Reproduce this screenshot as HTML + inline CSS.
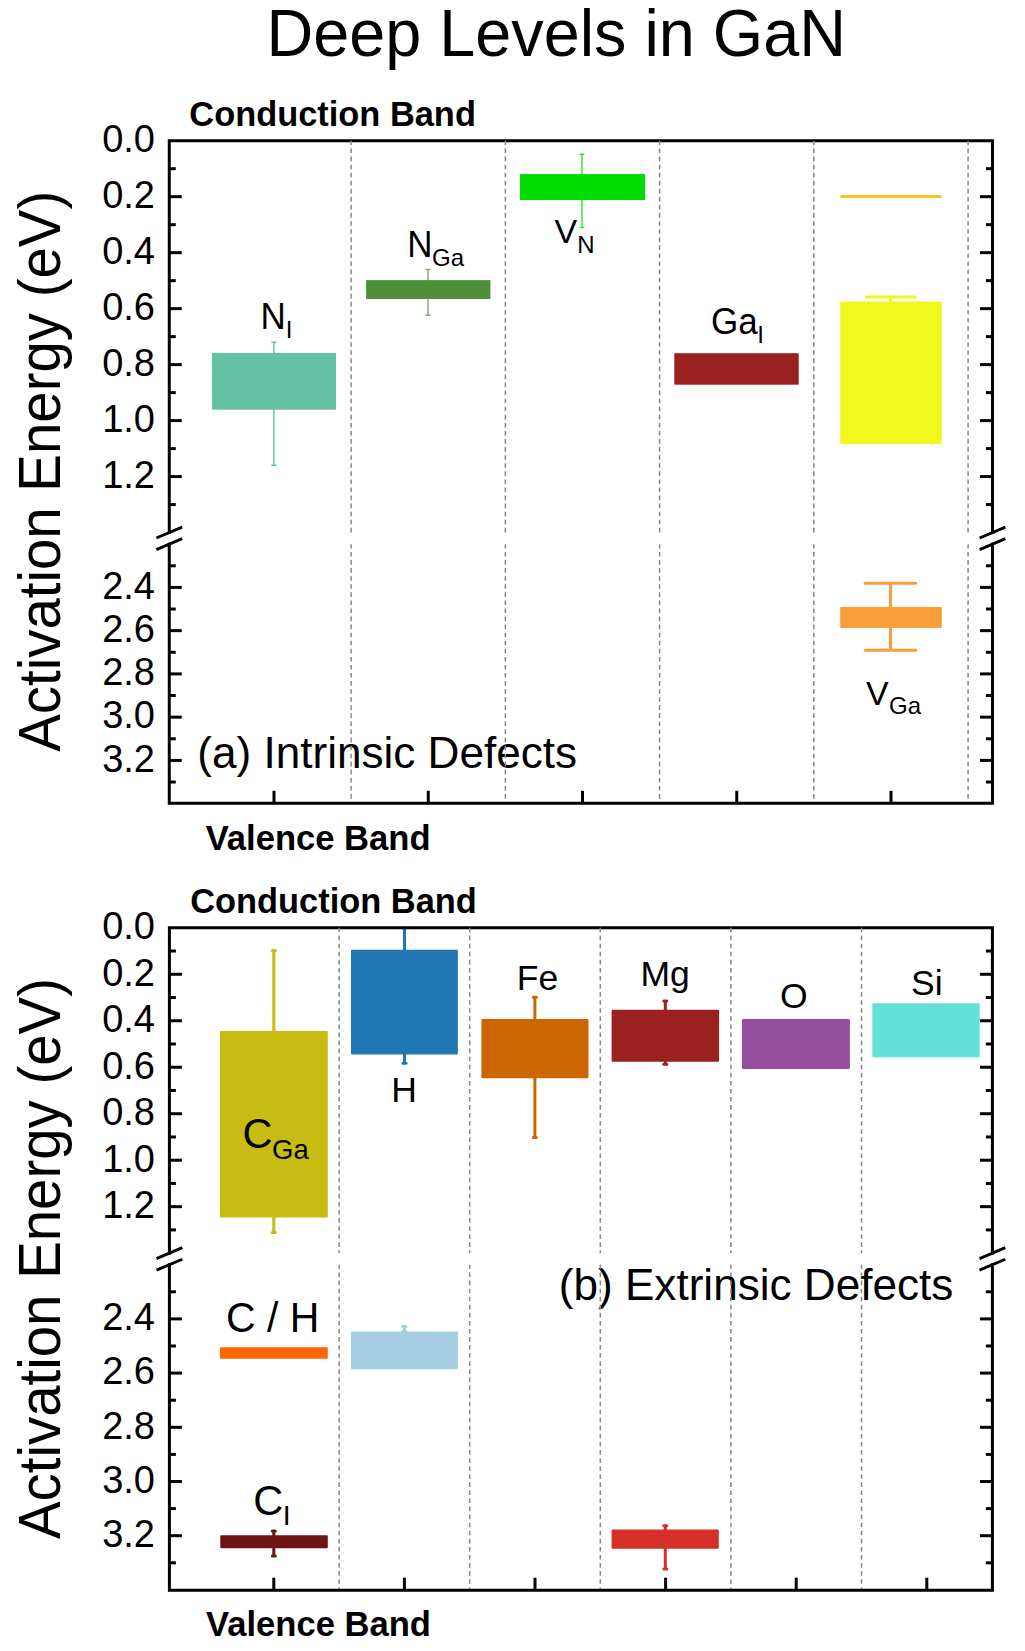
<!DOCTYPE html><html><head><meta charset="utf-8"><style>html,body{margin:0;padding:0;background:#fff;overflow:hidden}svg{display:block}</style></head><body><svg width="1025" height="1651" viewBox="0 0 1025 1651" font-family='"Liberation Sans", sans-serif'>
<rect width="1025" height="1651" fill="#fff"/>
<text transform="translate(266.55,55.60) scale(1,1.028)" font-size="64.75" fill="#000">Deep Levels in GaN</text>
<line x1="273.9" y1="342.2" x2="273.9" y2="465.3" stroke="#66c2a5" stroke-width="1.4"/>
<line x1="271.9" y1="342.2" x2="275.9" y2="342.2" stroke="#66c2a5" stroke-width="1.4" stroke-linecap="round"/>
<line x1="271.9" y1="465.3" x2="275.9" y2="465.3" stroke="#66c2a5" stroke-width="1.4" stroke-linecap="round"/>
<rect x="212" y="352.9" width="124.00" height="56.80" fill="#66c2a5" rx="0"/>
<line x1="428" y1="269.4" x2="428" y2="315.3" stroke="#7aad6a" stroke-width="1.4"/>
<line x1="426.0" y1="269.4" x2="430.0" y2="269.4" stroke="#7aad6a" stroke-width="1.4" stroke-linecap="round"/>
<line x1="426.0" y1="315.3" x2="430.0" y2="315.3" stroke="#7aad6a" stroke-width="1.4" stroke-linecap="round"/>
<rect x="366.1" y="280.1" width="124.30" height="18.90" fill="#4f8f3a" rx="0"/>
<line x1="582" y1="154.3" x2="582" y2="227.5" stroke="#33e033" stroke-width="1.4"/>
<line x1="580.0" y1="154.3" x2="584.0" y2="154.3" stroke="#33e033" stroke-width="1.4" stroke-linecap="round"/>
<line x1="580.0" y1="227.5" x2="584.0" y2="227.5" stroke="#33e033" stroke-width="1.4" stroke-linecap="round"/>
<rect x="520" y="174.1" width="125.00" height="25.90" fill="#00dd00" rx="0"/>
<rect x="674.3" y="353.2" width="124.40" height="31.50" fill="#9b2020" rx="0"/>
<line x1="841.7" y1="196.6" x2="940.2" y2="196.6" stroke="#fbc521" stroke-width="3" stroke-linecap="round"/>
<rect x="840.2" y="301.4" width="101.50" height="142.60" fill="#f0f71f" rx="1"/>
<line x1="866.3" y1="297.1" x2="915.1" y2="297.1" stroke="#f0f71f" stroke-width="3" stroke-linecap="round"/>
<line x1="890.6" y1="297.1" x2="890.6" y2="302" stroke="#f0f71f" stroke-width="3"/>
<line x1="890.5" y1="583.2" x2="890.5" y2="650.2" stroke="#fb9d3b" stroke-width="3"/>
<line x1="865.2" y1="583.2" x2="915.8" y2="583.2" stroke="#fb9d3b" stroke-width="3" stroke-linecap="round"/>
<line x1="865.2" y1="650.2" x2="915.8" y2="650.2" stroke="#fb9d3b" stroke-width="3" stroke-linecap="round"/>
<rect x="840.2" y="607.1" width="101.60" height="20.90" fill="#fb9d3b" rx="1"/>
<path d="M169.25,532.56 L169.25,140.7 L992.5,140.7 L992.5,532.56" fill="none" stroke="#000" stroke-width="3.0" stroke-linecap="square"/>
<path d="M169.25,544.1500000000001 L169.25,803.3 L992.5,803.3 L992.5,544.1500000000001" fill="none" stroke="#000" stroke-width="3.0" stroke-linecap="square"/>
<line x1="156.35" y1="538.01" x2="182.15" y2="527.1099999999999" stroke="#000" stroke-width="2.9"/>
<line x1="156.35" y1="549.6000000000001" x2="182.15" y2="538.7" stroke="#000" stroke-width="2.9"/>
<line x1="979.6" y1="538.01" x2="1005.4" y2="527.1099999999999" stroke="#000" stroke-width="2.9"/>
<line x1="979.6" y1="549.6000000000001" x2="1005.4" y2="538.7" stroke="#000" stroke-width="2.9"/>
<line x1="169.25" y1="196.68" x2="181.75" y2="196.68" stroke="#000" stroke-width="3.0"/>
<line x1="992.5" y1="196.68" x2="980.0" y2="196.68" stroke="#000" stroke-width="3.0"/>
<line x1="169.25" y1="252.66" x2="181.75" y2="252.66" stroke="#000" stroke-width="3.0"/>
<line x1="992.5" y1="252.66" x2="980.0" y2="252.66" stroke="#000" stroke-width="3.0"/>
<line x1="169.25" y1="308.64" x2="181.75" y2="308.64" stroke="#000" stroke-width="3.0"/>
<line x1="992.5" y1="308.64" x2="980.0" y2="308.64" stroke="#000" stroke-width="3.0"/>
<line x1="169.25" y1="364.62" x2="181.75" y2="364.62" stroke="#000" stroke-width="3.0"/>
<line x1="992.5" y1="364.62" x2="980.0" y2="364.62" stroke="#000" stroke-width="3.0"/>
<line x1="169.25" y1="420.60" x2="181.75" y2="420.60" stroke="#000" stroke-width="3.0"/>
<line x1="992.5" y1="420.60" x2="980.0" y2="420.60" stroke="#000" stroke-width="3.0"/>
<line x1="169.25" y1="476.58" x2="181.75" y2="476.58" stroke="#000" stroke-width="3.0"/>
<line x1="992.5" y1="476.58" x2="980.0" y2="476.58" stroke="#000" stroke-width="3.0"/>
<line x1="169.25" y1="168.69" x2="175.75" y2="168.69" stroke="#000" stroke-width="3.0"/>
<line x1="992.5" y1="168.69" x2="986.0" y2="168.69" stroke="#000" stroke-width="3.0"/>
<line x1="169.25" y1="224.67" x2="175.75" y2="224.67" stroke="#000" stroke-width="3.0"/>
<line x1="992.5" y1="224.67" x2="986.0" y2="224.67" stroke="#000" stroke-width="3.0"/>
<line x1="169.25" y1="280.65" x2="175.75" y2="280.65" stroke="#000" stroke-width="3.0"/>
<line x1="992.5" y1="280.65" x2="986.0" y2="280.65" stroke="#000" stroke-width="3.0"/>
<line x1="169.25" y1="336.63" x2="175.75" y2="336.63" stroke="#000" stroke-width="3.0"/>
<line x1="992.5" y1="336.63" x2="986.0" y2="336.63" stroke="#000" stroke-width="3.0"/>
<line x1="169.25" y1="392.61" x2="175.75" y2="392.61" stroke="#000" stroke-width="3.0"/>
<line x1="992.5" y1="392.61" x2="986.0" y2="392.61" stroke="#000" stroke-width="3.0"/>
<line x1="169.25" y1="448.59" x2="175.75" y2="448.59" stroke="#000" stroke-width="3.0"/>
<line x1="992.5" y1="448.59" x2="986.0" y2="448.59" stroke="#000" stroke-width="3.0"/>
<line x1="169.25" y1="504.57" x2="175.75" y2="504.57" stroke="#000" stroke-width="3.0"/>
<line x1="992.5" y1="504.57" x2="986.0" y2="504.57" stroke="#000" stroke-width="3.0"/>
<line x1="169.25" y1="587.40" x2="181.75" y2="587.40" stroke="#000" stroke-width="3.0"/>
<line x1="992.5" y1="587.40" x2="980.0" y2="587.40" stroke="#000" stroke-width="3.0"/>
<line x1="169.25" y1="630.65" x2="181.75" y2="630.65" stroke="#000" stroke-width="3.0"/>
<line x1="992.5" y1="630.65" x2="980.0" y2="630.65" stroke="#000" stroke-width="3.0"/>
<line x1="169.25" y1="673.90" x2="181.75" y2="673.90" stroke="#000" stroke-width="3.0"/>
<line x1="992.5" y1="673.90" x2="980.0" y2="673.90" stroke="#000" stroke-width="3.0"/>
<line x1="169.25" y1="717.15" x2="181.75" y2="717.15" stroke="#000" stroke-width="3.0"/>
<line x1="992.5" y1="717.15" x2="980.0" y2="717.15" stroke="#000" stroke-width="3.0"/>
<line x1="169.25" y1="760.40" x2="181.75" y2="760.40" stroke="#000" stroke-width="3.0"/>
<line x1="992.5" y1="760.40" x2="980.0" y2="760.40" stroke="#000" stroke-width="3.0"/>
<line x1="169.25" y1="565.77" x2="175.75" y2="565.77" stroke="#000" stroke-width="3.0"/>
<line x1="992.5" y1="565.77" x2="986.0" y2="565.77" stroke="#000" stroke-width="3.0"/>
<line x1="169.25" y1="609.02" x2="175.75" y2="609.02" stroke="#000" stroke-width="3.0"/>
<line x1="992.5" y1="609.02" x2="986.0" y2="609.02" stroke="#000" stroke-width="3.0"/>
<line x1="169.25" y1="652.28" x2="175.75" y2="652.28" stroke="#000" stroke-width="3.0"/>
<line x1="992.5" y1="652.28" x2="986.0" y2="652.28" stroke="#000" stroke-width="3.0"/>
<line x1="169.25" y1="695.52" x2="175.75" y2="695.52" stroke="#000" stroke-width="3.0"/>
<line x1="992.5" y1="695.52" x2="986.0" y2="695.52" stroke="#000" stroke-width="3.0"/>
<line x1="169.25" y1="738.77" x2="175.75" y2="738.77" stroke="#000" stroke-width="3.0"/>
<line x1="992.5" y1="738.77" x2="986.0" y2="738.77" stroke="#000" stroke-width="3.0"/>
<line x1="169.25" y1="782.02" x2="175.75" y2="782.02" stroke="#000" stroke-width="3.0"/>
<line x1="992.5" y1="782.02" x2="986.0" y2="782.02" stroke="#000" stroke-width="3.0"/>
<line x1="274.0" y1="803.3" x2="274.0" y2="790.8" stroke="#000" stroke-width="3.0"/>
<line x1="428.25" y1="803.3" x2="428.25" y2="790.8" stroke="#000" stroke-width="3.0"/>
<line x1="582.5" y1="803.3" x2="582.5" y2="790.8" stroke="#000" stroke-width="3.0"/>
<line x1="736.75" y1="803.3" x2="736.75" y2="790.8" stroke="#000" stroke-width="3.0"/>
<line x1="891.0" y1="803.3" x2="891.0" y2="790.8" stroke="#000" stroke-width="3.0"/>
<text transform="translate(155,152.00) scale(1,1.03)" font-size="38" text-anchor="end">0.0</text>
<text transform="translate(155,207.98) scale(1,1.03)" font-size="38" text-anchor="end">0.2</text>
<text transform="translate(155,263.96) scale(1,1.03)" font-size="38" text-anchor="end">0.4</text>
<text transform="translate(155,319.94) scale(1,1.03)" font-size="38" text-anchor="end">0.6</text>
<text transform="translate(155,375.92) scale(1,1.03)" font-size="38" text-anchor="end">0.8</text>
<text transform="translate(155,431.90) scale(1,1.03)" font-size="38" text-anchor="end">1.0</text>
<text transform="translate(155,487.88) scale(1,1.03)" font-size="38" text-anchor="end">1.2</text>
<text transform="translate(155,598.70) scale(1,1.03)" font-size="38" text-anchor="end">2.4</text>
<text transform="translate(155,641.95) scale(1,1.03)" font-size="38" text-anchor="end">2.6</text>
<text transform="translate(155,685.20) scale(1,1.03)" font-size="38" text-anchor="end">2.8</text>
<text transform="translate(155,728.45) scale(1,1.03)" font-size="38" text-anchor="end">3.0</text>
<text transform="translate(155,771.70) scale(1,1.03)" font-size="38" text-anchor="end">3.2</text>
<text transform="translate(260.55,328.80) scale(1,1.03)" font-size="35" fill="#000">N</text>
<text x="285.80" y="338.00" font-size="24" fill="#000">I</text>
<text transform="translate(407.15,256.80) scale(1,1.03)" font-size="35" fill="#000">N</text>
<text x="432.10" y="266.00" font-size="24" fill="#000">Ga</text>
<text x="554.40" y="243.10" font-size="34" fill="#000">V</text>
<text x="577.25" y="252.70" font-size="24" fill="#000">N</text>
<text transform="translate(710.95,333.90) scale(1,1.03)" font-size="35" fill="#000">Ga</text>
<text x="757.20" y="343.00" font-size="24" fill="#000">I</text>
<text x="866.10" y="704.90" font-size="34" fill="#000">V</text>
<text x="889.00" y="714.00" font-size="24" fill="#000">Ga</text>
<text x="197.30" y="767.60" font-size="44.1" fill="#000">(a) Intrinsic Defects</text>
<text x="189.35" y="125.70" font-size="34.4" font-weight="bold" fill="#000">Conduction Band</text>
<text x="205.70" y="849.80" font-size="34.6" font-weight="bold" fill="#000">Valence Band</text>
<text transform="translate(60,751.8) rotate(-90) scale(1,1.065)" font-size="56.4">Activation Energy (eV)</text>
<line x1="273.8" y1="950.5" x2="273.8" y2="1232.4" stroke="#c8bb12" stroke-width="3"/>
<line x1="272.3" y1="950.5" x2="275.3" y2="950.5" stroke="#c8bb12" stroke-width="3" stroke-linecap="round"/>
<line x1="272.3" y1="1232.4" x2="275.3" y2="1232.4" stroke="#c8bb12" stroke-width="3" stroke-linecap="round"/>
<rect x="219.9" y="1031" width="107.90" height="186.40" fill="#c8bb12" rx="1"/>
<line x1="404.5" y1="928" x2="404.5" y2="1063.3" stroke="#2077b4" stroke-width="3"/>
<line x1="403.0" y1="928" x2="406.0" y2="928" stroke="#2077b4" stroke-width="3" stroke-linecap="round"/>
<line x1="403.0" y1="1063.3" x2="406.0" y2="1063.3" stroke="#2077b4" stroke-width="3" stroke-linecap="round"/>
<rect x="351" y="949.7" width="106.90" height="104.90" fill="#2077b4" rx="1"/>
<line x1="534.9" y1="997.3" x2="534.9" y2="1137.4" stroke="#cc6600" stroke-width="3"/>
<line x1="533.4" y1="997.3" x2="536.4" y2="997.3" stroke="#cc6600" stroke-width="3" stroke-linecap="round"/>
<line x1="533.4" y1="1137.4" x2="536.4" y2="1137.4" stroke="#cc6600" stroke-width="3" stroke-linecap="round"/>
<rect x="481.4" y="1019.1" width="107.10" height="59.20" fill="#cc6600" rx="1"/>
<line x1="665.3" y1="1000.9" x2="665.3" y2="1064.3" stroke="#9b2020" stroke-width="3"/>
<line x1="663.8" y1="1000.9" x2="666.8" y2="1000.9" stroke="#9b2020" stroke-width="3" stroke-linecap="round"/>
<line x1="663.8" y1="1064.3" x2="666.8" y2="1064.3" stroke="#9b2020" stroke-width="3" stroke-linecap="round"/>
<rect x="611.6" y="1009.8" width="107.50" height="52.00" fill="#9b2020" rx="1"/>
<rect x="741.9" y="1019" width="108.00" height="50.10" fill="#954e9e" rx="1"/>
<rect x="872.3" y="1003.2" width="107.40" height="54.00" fill="#64e0d8" rx="1"/>
<rect x="219.9" y="1347.2" width="107.90" height="11.50" fill="#ff6600" rx="1"/>
<line x1="404.3" y1="1326.6" x2="404.3" y2="1331.4" stroke="#a6cee3" stroke-width="3"/>
<line x1="402.8" y1="1326.6" x2="405.8" y2="1326.6" stroke="#a6cee3" stroke-width="3" stroke-linecap="round"/>
<line x1="402.8" y1="1331.4" x2="405.8" y2="1331.4" stroke="#a6cee3" stroke-width="3" stroke-linecap="round"/>
<rect x="351" y="1331.4" width="106.90" height="37.90" fill="#a6cee3" rx="1"/>
<line x1="273.8" y1="1530.9" x2="273.8" y2="1556" stroke="#6b1517" stroke-width="3"/>
<line x1="272.3" y1="1530.9" x2="275.3" y2="1530.9" stroke="#6b1517" stroke-width="3" stroke-linecap="round"/>
<line x1="272.3" y1="1556" x2="275.3" y2="1556" stroke="#6b1517" stroke-width="3" stroke-linecap="round"/>
<rect x="220.3" y="1535.2" width="107.50" height="13.10" fill="#6b1517" rx="1"/>
<line x1="665.3" y1="1525.7" x2="665.3" y2="1569" stroke="#d62f27" stroke-width="3"/>
<line x1="663.8" y1="1525.7" x2="666.8" y2="1525.7" stroke="#d62f27" stroke-width="3" stroke-linecap="round"/>
<line x1="663.8" y1="1569" x2="666.8" y2="1569" stroke="#d62f27" stroke-width="3" stroke-linecap="round"/>
<rect x="611.6" y="1529.4" width="107.20" height="19.40" fill="#d62f27" rx="1"/>
<path d="M169.4,1253.1599999999999 L169.4,927.8 L992.4,927.8 L992.4,1253.1599999999999" fill="none" stroke="#000" stroke-width="3.0" stroke-linecap="square"/>
<path d="M169.4,1264.7000000000003 L169.4,1590.2 L992.4,1590.2 L992.4,1264.7000000000003" fill="none" stroke="#000" stroke-width="3.0" stroke-linecap="square"/>
<line x1="156.5" y1="1258.61" x2="182.3" y2="1247.7099999999998" stroke="#000" stroke-width="2.9"/>
<line x1="156.5" y1="1270.1500000000003" x2="182.3" y2="1259.2500000000002" stroke="#000" stroke-width="2.9"/>
<line x1="979.5" y1="1258.61" x2="1005.3" y2="1247.7099999999998" stroke="#000" stroke-width="2.9"/>
<line x1="979.5" y1="1270.1500000000003" x2="1005.3" y2="1259.2500000000002" stroke="#000" stroke-width="2.9"/>
<line x1="169.4" y1="974.28" x2="181.9" y2="974.28" stroke="#000" stroke-width="3.0"/>
<line x1="992.4" y1="974.28" x2="979.9" y2="974.28" stroke="#000" stroke-width="3.0"/>
<line x1="169.4" y1="1020.76" x2="181.9" y2="1020.76" stroke="#000" stroke-width="3.0"/>
<line x1="992.4" y1="1020.76" x2="979.9" y2="1020.76" stroke="#000" stroke-width="3.0"/>
<line x1="169.4" y1="1067.24" x2="181.9" y2="1067.24" stroke="#000" stroke-width="3.0"/>
<line x1="992.4" y1="1067.24" x2="979.9" y2="1067.24" stroke="#000" stroke-width="3.0"/>
<line x1="169.4" y1="1113.72" x2="181.9" y2="1113.72" stroke="#000" stroke-width="3.0"/>
<line x1="992.4" y1="1113.72" x2="979.9" y2="1113.72" stroke="#000" stroke-width="3.0"/>
<line x1="169.4" y1="1160.20" x2="181.9" y2="1160.20" stroke="#000" stroke-width="3.0"/>
<line x1="992.4" y1="1160.20" x2="979.9" y2="1160.20" stroke="#000" stroke-width="3.0"/>
<line x1="169.4" y1="1206.68" x2="181.9" y2="1206.68" stroke="#000" stroke-width="3.0"/>
<line x1="992.4" y1="1206.68" x2="979.9" y2="1206.68" stroke="#000" stroke-width="3.0"/>
<line x1="169.4" y1="951.04" x2="175.9" y2="951.04" stroke="#000" stroke-width="3.0"/>
<line x1="992.4" y1="951.04" x2="985.9" y2="951.04" stroke="#000" stroke-width="3.0"/>
<line x1="169.4" y1="997.52" x2="175.9" y2="997.52" stroke="#000" stroke-width="3.0"/>
<line x1="992.4" y1="997.52" x2="985.9" y2="997.52" stroke="#000" stroke-width="3.0"/>
<line x1="169.4" y1="1044.00" x2="175.9" y2="1044.00" stroke="#000" stroke-width="3.0"/>
<line x1="992.4" y1="1044.00" x2="985.9" y2="1044.00" stroke="#000" stroke-width="3.0"/>
<line x1="169.4" y1="1090.48" x2="175.9" y2="1090.48" stroke="#000" stroke-width="3.0"/>
<line x1="992.4" y1="1090.48" x2="985.9" y2="1090.48" stroke="#000" stroke-width="3.0"/>
<line x1="169.4" y1="1136.96" x2="175.9" y2="1136.96" stroke="#000" stroke-width="3.0"/>
<line x1="992.4" y1="1136.96" x2="985.9" y2="1136.96" stroke="#000" stroke-width="3.0"/>
<line x1="169.4" y1="1183.44" x2="175.9" y2="1183.44" stroke="#000" stroke-width="3.0"/>
<line x1="992.4" y1="1183.44" x2="985.9" y2="1183.44" stroke="#000" stroke-width="3.0"/>
<line x1="169.4" y1="1229.92" x2="175.9" y2="1229.92" stroke="#000" stroke-width="3.0"/>
<line x1="992.4" y1="1229.92" x2="985.9" y2="1229.92" stroke="#000" stroke-width="3.0"/>
<line x1="169.4" y1="1318.90" x2="181.9" y2="1318.90" stroke="#000" stroke-width="3.0"/>
<line x1="992.4" y1="1318.90" x2="979.9" y2="1318.90" stroke="#000" stroke-width="3.0"/>
<line x1="169.4" y1="1373.10" x2="181.9" y2="1373.10" stroke="#000" stroke-width="3.0"/>
<line x1="992.4" y1="1373.10" x2="979.9" y2="1373.10" stroke="#000" stroke-width="3.0"/>
<line x1="169.4" y1="1427.30" x2="181.9" y2="1427.30" stroke="#000" stroke-width="3.0"/>
<line x1="992.4" y1="1427.30" x2="979.9" y2="1427.30" stroke="#000" stroke-width="3.0"/>
<line x1="169.4" y1="1481.50" x2="181.9" y2="1481.50" stroke="#000" stroke-width="3.0"/>
<line x1="992.4" y1="1481.50" x2="979.9" y2="1481.50" stroke="#000" stroke-width="3.0"/>
<line x1="169.4" y1="1535.70" x2="181.9" y2="1535.70" stroke="#000" stroke-width="3.0"/>
<line x1="992.4" y1="1535.70" x2="979.9" y2="1535.70" stroke="#000" stroke-width="3.0"/>
<line x1="169.4" y1="1291.80" x2="175.9" y2="1291.80" stroke="#000" stroke-width="3.0"/>
<line x1="992.4" y1="1291.80" x2="985.9" y2="1291.80" stroke="#000" stroke-width="3.0"/>
<line x1="169.4" y1="1346.00" x2="175.9" y2="1346.00" stroke="#000" stroke-width="3.0"/>
<line x1="992.4" y1="1346.00" x2="985.9" y2="1346.00" stroke="#000" stroke-width="3.0"/>
<line x1="169.4" y1="1400.20" x2="175.9" y2="1400.20" stroke="#000" stroke-width="3.0"/>
<line x1="992.4" y1="1400.20" x2="985.9" y2="1400.20" stroke="#000" stroke-width="3.0"/>
<line x1="169.4" y1="1454.40" x2="175.9" y2="1454.40" stroke="#000" stroke-width="3.0"/>
<line x1="992.4" y1="1454.40" x2="985.9" y2="1454.40" stroke="#000" stroke-width="3.0"/>
<line x1="169.4" y1="1508.60" x2="175.9" y2="1508.60" stroke="#000" stroke-width="3.0"/>
<line x1="992.4" y1="1508.60" x2="985.9" y2="1508.60" stroke="#000" stroke-width="3.0"/>
<line x1="169.4" y1="1562.80" x2="175.9" y2="1562.80" stroke="#000" stroke-width="3.0"/>
<line x1="992.4" y1="1562.80" x2="985.9" y2="1562.80" stroke="#000" stroke-width="3.0"/>
<line x1="273.8" y1="1590.2" x2="273.8" y2="1577.7" stroke="#000" stroke-width="3.0"/>
<line x1="404.4" y1="1590.2" x2="404.4" y2="1577.7" stroke="#000" stroke-width="3.0"/>
<line x1="535.0" y1="1590.2" x2="535.0" y2="1577.7" stroke="#000" stroke-width="3.0"/>
<line x1="665.5999999999999" y1="1590.2" x2="665.5999999999999" y2="1577.7" stroke="#000" stroke-width="3.0"/>
<line x1="796.2" y1="1590.2" x2="796.2" y2="1577.7" stroke="#000" stroke-width="3.0"/>
<line x1="926.8" y1="1590.2" x2="926.8" y2="1577.7" stroke="#000" stroke-width="3.0"/>
<text transform="translate(155,939.10) scale(1,1.03)" font-size="38" text-anchor="end">0.0</text>
<text transform="translate(155,985.58) scale(1,1.03)" font-size="38" text-anchor="end">0.2</text>
<text transform="translate(155,1032.06) scale(1,1.03)" font-size="38" text-anchor="end">0.4</text>
<text transform="translate(155,1078.54) scale(1,1.03)" font-size="38" text-anchor="end">0.6</text>
<text transform="translate(155,1125.02) scale(1,1.03)" font-size="38" text-anchor="end">0.8</text>
<text transform="translate(155,1171.50) scale(1,1.03)" font-size="38" text-anchor="end">1.0</text>
<text transform="translate(155,1217.98) scale(1,1.03)" font-size="38" text-anchor="end">1.2</text>
<text transform="translate(155,1330.20) scale(1,1.03)" font-size="38" text-anchor="end">2.4</text>
<text transform="translate(155,1384.40) scale(1,1.03)" font-size="38" text-anchor="end">2.6</text>
<text transform="translate(155,1438.60) scale(1,1.03)" font-size="38" text-anchor="end">2.8</text>
<text transform="translate(155,1492.80) scale(1,1.03)" font-size="38" text-anchor="end">3.0</text>
<text transform="translate(155,1547.00) scale(1,1.03)" font-size="38" text-anchor="end">3.2</text>
<text transform="translate(242.40,1148.30) scale(1,1.04)" font-size="41.5" fill="#000">C</text>
<text x="272.05" y="1158.60" font-size="27.5" fill="#000">Ga</text>
<text x="391.25" y="1102.00" font-size="35.5" fill="#000">H</text>
<text x="516.75" y="990.20" font-size="35.5" fill="#000">Fe</text>
<text x="640.55" y="985.70" font-size="35.5" fill="#000">Mg</text>
<text x="779.90" y="1007.50" font-size="35.5" fill="#000">O</text>
<text x="911.10" y="994.80" font-size="35.5" fill="#000">Si</text>
<text transform="translate(226.00,1332.40) scale(1,1.06)" font-size="41" fill="#000">C / H</text>
<text transform="translate(253.20,1514.60) scale(1,1.04)" font-size="41.5" fill="#000">C</text>
<text x="282.70" y="1524.90" font-size="28.5" fill="#000">I</text>
<text x="558.80" y="1299.70" font-size="44.1" fill="#000">(b) Extrinsic Defects</text>
<text x="190.25" y="913.30" font-size="34.4" font-weight="bold" fill="#000">Conduction Band</text>
<text x="206.10" y="1636.00" font-size="34.6" font-weight="bold" fill="#000">Valence Band</text>
<text transform="translate(60,1539) rotate(-90) scale(1,1.065)" font-size="56.4">Activation Energy (eV)</text>
<line x1="351.1" y1="140.7" x2="351.1" y2="532.56" stroke="#888" stroke-width="1.5" stroke-dasharray="4.6 3.47" stroke-dashoffset="0.25"/>
<line x1="351.1" y1="544.1500000000001" x2="351.1" y2="801.8" stroke="#888" stroke-width="1.5" stroke-dasharray="4.6 3.47" stroke-dashoffset="0.25"/>
<line x1="505.35" y1="140.7" x2="505.35" y2="532.56" stroke="#888" stroke-width="1.5" stroke-dasharray="4.6 3.47" stroke-dashoffset="0.25"/>
<line x1="505.35" y1="544.1500000000001" x2="505.35" y2="801.8" stroke="#888" stroke-width="1.5" stroke-dasharray="4.6 3.47" stroke-dashoffset="0.25"/>
<line x1="659.6" y1="140.7" x2="659.6" y2="532.56" stroke="#888" stroke-width="1.5" stroke-dasharray="4.6 3.47" stroke-dashoffset="0.25"/>
<line x1="659.6" y1="544.1500000000001" x2="659.6" y2="801.8" stroke="#888" stroke-width="1.5" stroke-dasharray="4.6 3.47" stroke-dashoffset="0.25"/>
<line x1="813.85" y1="140.7" x2="813.85" y2="532.56" stroke="#888" stroke-width="1.5" stroke-dasharray="4.6 3.47" stroke-dashoffset="0.25"/>
<line x1="813.85" y1="544.1500000000001" x2="813.85" y2="801.8" stroke="#888" stroke-width="1.5" stroke-dasharray="4.6 3.47" stroke-dashoffset="0.25"/>
<line x1="968.1" y1="140.7" x2="968.1" y2="532.56" stroke="#888" stroke-width="1.5" stroke-dasharray="4.6 3.47" stroke-dashoffset="0.25"/>
<line x1="968.1" y1="544.1500000000001" x2="968.1" y2="801.8" stroke="#888" stroke-width="1.5" stroke-dasharray="4.6 3.47" stroke-dashoffset="0.25"/>
<line x1="339.1" y1="927.8" x2="339.1" y2="1253.1599999999999" stroke="#888" stroke-width="1.5" stroke-dasharray="4.6 3.47" stroke-dashoffset="0.25"/>
<line x1="339.1" y1="1264.7000000000003" x2="339.1" y2="1588.7" stroke="#888" stroke-width="1.5" stroke-dasharray="4.6 3.47" stroke-dashoffset="0.25"/>
<line x1="469.70000000000005" y1="927.8" x2="469.70000000000005" y2="1253.1599999999999" stroke="#888" stroke-width="1.5" stroke-dasharray="4.6 3.47" stroke-dashoffset="0.25"/>
<line x1="469.70000000000005" y1="1264.7000000000003" x2="469.70000000000005" y2="1588.7" stroke="#888" stroke-width="1.5" stroke-dasharray="4.6 3.47" stroke-dashoffset="0.25"/>
<line x1="600.3" y1="927.8" x2="600.3" y2="1253.1599999999999" stroke="#888" stroke-width="1.5" stroke-dasharray="4.6 3.47" stroke-dashoffset="0.25"/>
<line x1="600.3" y1="1264.7000000000003" x2="600.3" y2="1588.7" stroke="#888" stroke-width="1.5" stroke-dasharray="4.6 3.47" stroke-dashoffset="0.25"/>
<line x1="730.9" y1="927.8" x2="730.9" y2="1253.1599999999999" stroke="#888" stroke-width="1.5" stroke-dasharray="4.6 3.47" stroke-dashoffset="0.25"/>
<line x1="730.9" y1="1264.7000000000003" x2="730.9" y2="1588.7" stroke="#888" stroke-width="1.5" stroke-dasharray="4.6 3.47" stroke-dashoffset="0.25"/>
<line x1="861.5" y1="927.8" x2="861.5" y2="1253.1599999999999" stroke="#888" stroke-width="1.5" stroke-dasharray="4.6 3.47" stroke-dashoffset="0.25"/>
<line x1="861.5" y1="1264.7000000000003" x2="861.5" y2="1588.7" stroke="#888" stroke-width="1.5" stroke-dasharray="4.6 3.47" stroke-dashoffset="0.25"/>
</svg></body></html>
